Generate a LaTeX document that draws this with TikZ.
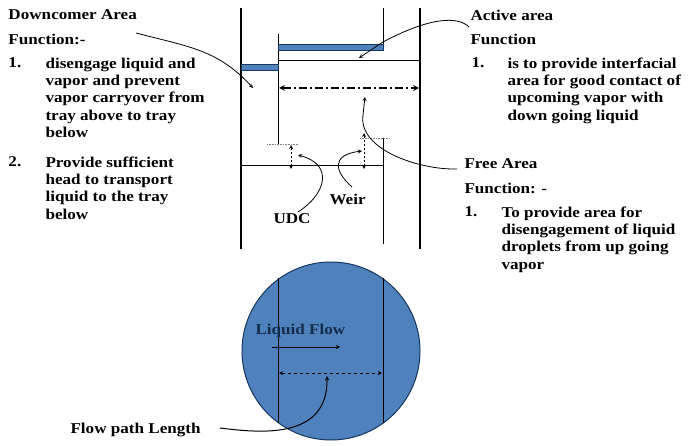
\documentclass[tikz,border=0pt]{standalone}
\usepackage{xcolor}
\usepackage{fontspec}
\setmainfont[FakeStretch=1.14]{Liberation Serif}
\usepackage{tikz}
\definecolor{trayblue}{HTML}{4F81BD}
\definecolor{trayedge}{HTML}{17375E}
\begin{document}
\begin{tikzpicture}[x=1pt, y=-1pt, line width=1pt,
  txt/.style = {anchor=north west, inner sep=0pt, align=left, font=\fontsize{15}{17.2}\selectfont\bfseries},
  wall/.style = {line width=2pt},
  plate/.style = {draw=trayedge, fill=trayblue},
  hint/.style = {-stealth, line width=.8pt},
  gap/.style = {stealth-stealth, line width=.8pt, dash pattern=on 2pt off 2pt},
  lip/.style = {gray, densely dotted, line width=.6pt}]
\useasboundingbox (0,0) rectangle (698,446);
% labels
\node[txt] (dc) at (8,9.5) {Downcomer Area};
\node[txt] (dcf) at (8,33.5) {Function:-};
\node[txt] (dc1) at (8,57.5) {1.};
\node[txt] (dct1) at (45,57.5) {disengage liquid and\\vapor and prevent\\vapor carryover from\\tray above to tray\\below};
\node[txt] (dc2) at (8,156.5) {2.};
\node[txt] (dct2) at (45,156.5) {Provide sufficient\\head to transport\\liquid to the tray\\below};
\node[txt] (aa) at (470,9.5) {Active area};
\node[txt] (aaf) at (470,33.5) {Function};
\node[txt] (aa1) at (471,57.5) {1.};
\node[txt] (aat1) at (507,57.5) {is to provide interfacial\\area for good contact of\\upcoming vapor with\\down going liquid};
\node[txt] (fa) at (464,158.5) {Free Area};
\node[txt] (faf) at (464,182.5) {Function: -};
\node[txt] (fa1) at (464,206.5) {1.};
\node[txt] (fat1) at (501,206.5) {To provide area for\\disengagement of liquid\\droplets from up going\\vapor};
\node[txt] (udc) at (273,213) {UDC};
\node[txt] (weir) at (329,194) {Weir};
\node[txt] (fpl) at (70,423) {Flow path Length};
% column
\coordinate (wl1) at (241,8); \coordinate (wl2) at (241,249);
\coordinate (wr1) at (420,8); \coordinate (wr2) at (420,249);
\draw[wall] (wl1) -- (wl2);
\draw[wall] (wr1) -- (wr2);
\coordinate (d1) at (278,34); \coordinate (d2) at (278,144);
\coordinate (u1) at (383,8); \coordinate (u2) at (383,45);
\coordinate (o1) at (383,138); \coordinate (o2) at (383,244);
\draw (d1) -- (d2);
\draw (u1) -- (u2);
\draw (o1) -- (o2);
\node[plate, minimum width=105pt, minimum height=6pt, inner sep=0pt] (active) at (330.5,48) {};
\node[plate, minimum width=37pt, minimum height=6pt, inner sep=0pt] (down) at (259.5,67.5) {};
\coordinate (t1) at (278,60.5); \coordinate (t2) at (420,60.5);
\coordinate (f1) at (241,165.5); \coordinate (f2) at (383,165.5);
\draw (t1) -- (t2);
\draw (f1) -- (f2);
\coordinate (s1) at (279,88); \coordinate (s2) at (419,88);
\draw[stealth-stealth, line width=1.6pt, dash pattern=on 8pt off 3pt on 2pt off 3pt] (s1) -- (s2);
% clearances
\coordinate (p1) at (267,144); \coordinate (p2) at (298,144);
\coordinate (q1) at (360,138); \coordinate (q2) at (390,138);
\draw[lip] (p1) -- (p2);
\draw[lip] (q1) -- (q2);
\coordinate (g1) at (291,145); \coordinate (g2) at (291,169);
\coordinate (h1) at (364,133); \coordinate (h2) at (364,169);
\draw[gap] (g1) -- (g2);
\draw[gap] (h1) -- (h2);
% pointers
\coordinate (a1) at (136,33); \coordinate (a2) at (253,88);
\coordinate (b1) at (469,27); \coordinate (b2) at (359,58);
\coordinate (c1) at (457,169); \coordinate (c2) at (365,97);
\coordinate (e1) at (298,212); \coordinate (e2) at (298,155);
\coordinate (k1) at (352,187); \coordinate (k2) at (362,151);
\draw[hint] (a1) .. controls (190,47) and (218,50) .. (a2);
\draw[hint] (b1) .. controls (458,16) and (430,17) .. (383,42) -- (b2);
\draw[hint] (c1) .. controls (420,170) and (358,150) .. (363,115) -- (c2);
\draw[hint] (e1) .. controls (325,195) and (335,165) .. (e2);
\draw[hint] (k1) .. controls (335,172) and (330,155) .. (k2);
% tray
\node[circle, draw=trayedge, fill=trayblue, minimum size=178pt, inner sep=0pt] (tray) at (331,351) {};
\coordinate (m1) at (278,278); \coordinate (m2) at (278,423);
\coordinate (n1) at (383,278); \coordinate (n2) at (383,423);
\draw[line width=.9pt, black] (m1) -- (m2);
\draw[line width=.9pt, black] (n1) -- (n2);
\node[txt, text=trayedge!80!black] (flow) at (255,324) {Liquid Flow};
\coordinate (r1) at (272,347); \coordinate (r2) at (340,347);
\draw[hint] (r1) -- (r2);
\coordinate (v1) at (279,373); \coordinate (v2) at (382,373);
\draw[stealth-stealth, dashed, line width=.8pt] (v1) -- (v2);
\coordinate (w1) at (220,428); \coordinate (w2) at (327,376);
\draw[hint, line width=1pt] (w1) .. controls (260,433) and (328,440) .. (w2);
\end{tikzpicture}
\end{document}
